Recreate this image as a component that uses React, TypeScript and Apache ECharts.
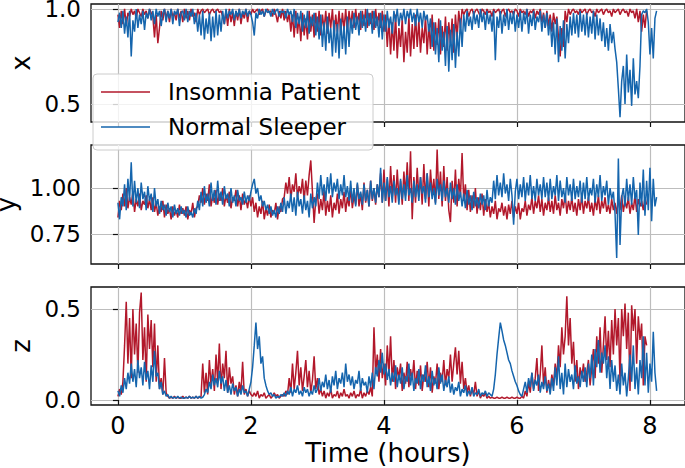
import React, { useEffect, useRef } from "react";
import * as echarts from "echarts";

// Sampling interval of the accelerometer traces, in hours.
const STEP_HOURS = 0.025;

const SERIES_NAMES = ["Insomnia Patient", "Normal Sleeper"];
const SERIES_COLORS = ["#b2182b", "#1565ad"];
const PANEL_NAMES = ["x", "y", "z"];
const X_TICKS = [0, 2, 4, 6, 8];
const Y_TICKS = [
  [0.5, 1.0],
  [0.75, 1.0],
  [0.0, 0.5],
];
const Y_DECIMALS = [1, 2, 1];
const Y_RANGES = [
  [0.405, 1.026],
  [0.587, 1.234],
  [-0.0275, 0.621],
];

// x-axis component (one row = half an hour)
const xInsomnia = [
  0.97, 0.9, 0.99, 0.92, 1.0, 0.91, 0.98, 0.96, 1.0, 0.97, 0.99, 0.95, 1.0, 0.98, 0.96, 1.0, 0.97, 0.99, 0.95, 1.0,
  0.98, 0.96, 0.85, 0.97, 0.82, 0.9, 0.99, 0.94, 1.0, 0.95, 0.99, 0.93, 1.0, 0.96, 0.98, 0.94, 1.0, 0.95, 0.99, 0.93,
  1.0, 0.95, 0.99, 0.94, 1.0, 0.96, 0.98, 0.93, 1.0, 0.97, 0.99, 1.0, 0.98, 0.99, 1.0, 0.97, 0.99, 1.0, 0.98, 0.99,
  1.0, 0.98, 0.99, 0.96, 0.92, 0.99, 0.91, 1.0, 0.93, 0.98, 0.91, 0.99, 0.94, 1.0, 0.92, 0.98, 0.95, 1.0, 0.93, 0.99,
  0.97, 1.0, 0.98, 0.99, 1.0, 0.97, 0.99, 1.0, 0.96, 0.99, 1.0, 0.98, 0.99, 0.96, 1.0, 0.97, 0.93, 0.99, 0.95, 1.0,
  0.94, 0.99, 0.93, 0.98, 0.88, 0.97, 0.85, 0.99, 0.87, 0.96, 0.83, 0.98, 0.86, 0.95, 0.84, 0.99, 0.88, 0.97, 0.85, 0.98,
  0.88, 0.99, 0.86, 0.97, 0.89, 0.99, 0.87, 0.98, 0.9, 1.0, 0.86, 0.97, 0.88, 0.99, 0.87, 0.98, 0.89, 1.0, 0.88, 0.99,
  0.91, 0.99, 0.9, 1.0, 0.92, 0.98, 0.89, 0.99, 0.91, 1.0, 0.9, 0.98, 0.92, 0.99, 0.89, 1.0, 0.91, 0.98, 0.9, 0.99,
  0.88, 0.97, 0.8, 0.95, 0.76, 0.93, 0.78, 0.97, 0.74, 0.9, 0.8, 0.95, 0.72, 0.88, 0.77, 0.96, 0.75, 0.92, 0.79, 0.97,
  0.8, 0.94, 0.77, 0.9, 0.82, 0.96, 0.76, 0.92, 0.79, 0.97, 0.78, 0.93, 0.81, 0.95, 0.76, 0.91, 0.8, 0.96, 0.78, 0.93,
  0.82, 0.95, 0.77, 0.97, 0.85, 0.99, 0.9, 1.0, 0.97, 0.99, 1.0, 0.96, 0.99, 1.0, 0.97, 0.99, 1.0, 0.98, 0.96, 1.0,
  0.99, 0.97, 1.0, 0.98, 0.99, 0.96, 1.0, 0.98, 0.99, 1.0, 0.97, 0.99, 1.0, 0.96, 0.99, 1.0, 0.98, 0.99, 0.97, 1.0,
  0.99, 0.96, 1.0, 0.98, 0.99, 0.97, 1.0, 0.96, 0.99, 0.98, 1.0, 0.95, 0.99, 0.97, 1.0, 0.93, 0.98, 0.9, 0.99, 0.91,
  0.97, 0.88, 0.98, 0.92, 0.96, 0.85, 0.75, 0.9, 0.8, 0.99, 0.93, 1.0, 0.97, 0.99, 1.0, 0.98, 0.99, 0.97, 1.0, 0.98,
  0.99, 1.0, 0.97, 0.99, 1.0, 0.98, 0.99, 0.96, 1.0, 0.98, 0.99, 1.0, 0.97, 0.99, 1.0, 0.98, 0.99, 0.96, 1.0, 0.98,
  0.99, 1.0, 0.97, 0.99, 1.0, 0.98, 0.99, 0.96, 1.0, 0.98, 0.99, 0.95, 1.0, 0.93, 0.99, 0.88, 0.97, 0.9, 0.99,
];
const xNormal = [
  0.93, 0.98, 0.9, 0.99, 0.87, 0.96, 0.85, 0.99, 0.75, 0.94, 0.88, 1.0, 0.9, 0.97, 0.92, 0.99, 0.89, 0.98, 0.95, 1.0,
  0.94, 0.99, 0.92, 1.0, 0.96, 0.99, 0.91, 0.98, 1.0, 0.93, 0.99, 0.95, 1.0, 0.92, 0.99, 0.97, 1.0, 0.91, 0.98, 0.99,
  0.94, 1.0, 0.93, 0.99, 0.96, 1.0, 0.92, 0.98, 0.88, 0.97, 0.86, 0.99, 0.84, 0.95, 0.87, 0.98, 0.83, 0.96, 0.85, 0.99,
  0.86, 0.97, 0.88, 0.99, 0.92, 1.0, 0.95, 0.99, 0.97, 1.0, 0.94, 0.99, 0.96, 1.0, 0.95, 0.99, 0.97, 1.0, 0.96, 0.99,
  0.97, 0.93, 0.86, 0.98, 0.95, 1.0, 0.97, 0.99, 0.96, 1.0, 0.98, 0.99, 0.96, 1.0, 0.97, 0.99, 1.0, 0.96, 0.99, 0.98,
  0.99, 0.95, 1.0, 0.97, 0.99, 0.93, 1.0, 0.9, 0.98, 0.92, 0.99, 0.88, 0.97, 0.9, 0.99, 0.87, 0.96, 0.91, 0.98, 0.86,
  0.96, 0.84, 0.97, 0.8, 0.93, 0.78, 0.96, 0.82, 0.9, 0.75, 0.94, 0.77, 0.92, 0.74, 0.95, 0.79, 0.91, 0.76, 0.96, 0.8,
  0.95, 0.87, 0.98, 0.89, 0.96, 0.86, 0.99, 0.9, 0.97, 0.88, 1.0, 0.91, 0.98, 0.87, 0.99, 0.9, 0.96, 0.85, 0.98, 0.84,
  0.97, 0.88, 0.99, 0.9, 0.96, 0.87, 0.99, 0.93, 1.0, 0.91, 0.98, 0.94, 1.0, 0.92, 0.99, 0.95, 1.0, 0.93, 0.98, 0.91,
  1.0, 0.93, 0.98, 0.9, 0.99, 0.94, 0.97, 0.88, 0.95, 0.8, 0.93, 0.76, 0.9, 0.72, 0.94, 0.78, 0.88, 0.7, 0.91, 0.67,
  0.89, 0.73, 0.92, 0.69, 0.88, 0.75, 0.95, 0.8, 0.97, 0.88, 0.99, 0.91, 0.96, 0.89, 0.99, 0.92, 0.97, 0.9, 1.0, 0.93,
  0.98, 0.89, 0.99, 0.92, 0.97, 0.88, 0.99, 0.73, 0.96, 0.9, 0.99, 0.87, 0.97, 0.91, 1.0, 0.89, 0.98, 0.92, 0.99, 0.88,
  0.97, 0.9, 0.99, 0.88, 0.98, 0.92, 1.0, 0.87, 0.97, 0.91, 0.99, 0.89, 0.96, 0.93, 0.99, 0.88, 0.97, 0.9, 0.98, 0.86,
  0.95, 0.8, 0.93, 0.76, 0.95, 0.72, 0.91, 0.78, 0.94, 0.74, 0.92, 0.82, 0.96, 0.86, 0.98, 0.87, 0.97, 0.85, 0.99, 0.88,
  0.97, 0.86, 0.98, 0.85, 0.96, 0.87, 0.99, 0.84, 0.97, 0.86, 0.95, 0.83, 0.93, 0.8, 0.9, 0.78, 0.92, 0.82, 0.88, 0.79,
  0.72, 0.58, 0.43, 0.62, 0.7, 0.5, 0.76, 0.56, 0.68, 0.49, 0.74, 0.55, 0.62, 0.53, 0.7, 0.97, 0.99, 0.98, 1.0, 0.93,
  0.76, 0.9, 0.74, 0.95, 0.99,
];

// y-axis component
const yInsomnia = [
  0.84, 0.93, 0.88, 0.97, 0.9, 1.0, 0.89, 0.95, 0.91, 0.98, 0.87, 0.94, 0.9, 0.97, 0.88, 0.93, 0.91, 0.96, 0.89, 0.94,
  0.88, 0.95, 0.87, 0.92, 0.85, 0.9, 0.87, 0.93, 0.84, 0.91, 0.86, 0.89, 0.83, 0.9, 0.85, 0.88, 0.84, 0.91, 0.86, 0.89,
  0.85, 0.9, 0.83, 0.88, 0.86, 0.92, 0.84, 0.89, 0.9, 0.96, 0.92, 1.0, 0.91, 0.97, 0.93, 1.02, 0.9, 0.96, 0.92, 0.99,
  0.91, 0.97, 0.93, 1.0, 0.9, 0.96, 0.92, 0.98, 0.89, 0.95, 0.93, 0.99, 0.9, 0.96, 0.88, 0.97, 0.91, 0.94, 0.89, 0.96,
  0.9, 0.95, 0.87, 0.92, 0.84, 0.9, 0.86, 0.93, 0.83, 0.89, 0.85, 0.91, 0.84, 0.88, 0.86, 0.92, 0.83, 0.9, 0.87, 0.94,
  0.95, 1.03, 0.97, 1.06, 0.94, 1.02, 0.98, 1.08, 0.95, 1.01, 0.97, 1.05, 0.93, 1.04, 0.96, 1.07, 1.15, 0.98, 0.81, 0.94,
  0.97, 0.86, 0.94, 0.88, 0.99, 0.85, 0.93, 0.87, 0.96, 0.84, 0.92, 0.88, 0.97, 0.86, 0.94, 0.89, 0.98, 0.87, 0.95, 0.9,
  1.0, 0.89, 0.96, 0.91, 1.02, 0.9, 0.97, 0.88, 1.03, 0.92, 0.99, 0.9, 1.04, 0.93, 1.0, 0.91, 1.02, 0.95, 1.08, 0.92,
  1.1, 0.93, 1.05, 0.9, 1.12, 0.95, 1.07, 0.92, 1.1, 0.94, 1.04, 0.91, 1.09, 0.96, 1.14, 0.93, 1.2, 0.83, 1.06, 0.92,
  1.11, 0.95, 1.06, 0.91, 1.13, 0.94, 1.08, 0.9, 1.1, 0.96, 1.05, 0.92, 1.21, 0.94, 1.09, 0.9, 1.12, 0.93, 1.06, 0.88,
  0.815, 1.04, 0.92, 1.1, 0.9, 1.05, 0.95, 1.19, 0.93, 1.02, 0.88, 0.99, 0.87, 0.96, 0.89, 1.0, 0.86, 0.95, 0.88, 0.97,
  0.85, 0.94, 0.87, 0.92, 0.84, 0.9, 0.86, 0.93, 0.83, 0.89, 0.87, 0.92, 0.85, 0.9, 0.83, 0.91, 0.86, 0.93, 0.84, 0.9,
  0.86, 0.92, 0.83, 0.89, 0.87, 0.93, 0.85, 0.91, 0.88, 0.95, 0.86, 0.93, 0.89, 0.96, 0.87, 0.94, 0.85, 0.92, 0.88, 0.95,
  0.87, 0.93, 0.86, 0.96, 0.88, 0.92, 0.85, 0.94, 0.89, 0.97, 0.86, 0.93, 0.88, 0.95, 0.87, 0.92, 0.85, 0.94, 0.88, 0.96,
  0.86, 0.93, 0.89, 0.95, 0.87, 0.92, 0.85, 0.94, 0.88, 0.96, 0.86, 0.93, 0.89, 0.95, 0.87, 0.91, 0.86, 0.94, 0.88, 0.92,
  0.86, 0.94, 0.88, 0.96, 0.87, 0.93, 0.89, 0.95, 0.86, 0.92, 0.88, 0.96, 0.87, 0.94, 0.9, 0.93, 0.88, 0.95, 0.91,
];
const yNormal = [
  0.92, 0.83, 0.95, 0.9, 1.02, 0.88, 1.05, 0.93, 1.14, 0.9, 1.04, 0.92, 1.0, 0.89, 1.03, 0.94, 0.98, 0.88, 1.01, 0.93,
  0.97, 0.87, 1.0, 0.9, 0.94, 0.86, 0.93, 0.88, 0.91, 0.85, 0.92, 0.87, 0.9, 0.84, 0.91, 0.86, 0.89, 0.85, 0.9, 0.86,
  0.88, 0.84, 0.9, 0.85, 0.87, 0.84, 0.89, 0.86, 0.93, 0.88, 0.98, 0.9, 1.01, 0.92, 0.97, 0.9, 1.03, 0.93, 0.99, 0.91,
  1.04, 0.93, 0.98, 0.91, 1.01, 0.94, 0.97, 0.9, 1.0, 0.92, 0.96, 0.9, 0.99, 0.93, 0.95, 0.91, 0.98, 0.92, 0.96, 0.93,
  0.98, 1.02, 1.05, 0.97, 1.0, 0.93, 0.96, 0.9, 0.93, 0.88, 0.91, 0.86, 0.9, 0.85, 0.88, 0.84, 0.9, 0.86, 0.92, 0.87,
  0.95, 0.86, 0.93, 0.89, 0.97, 0.87, 0.95, 0.85, 0.98, 0.9, 0.94, 0.86, 0.96, 0.88, 0.93, 0.84, 0.97, 0.89, 0.95, 0.9,
  1.03, 0.94, 1.07, 0.96, 1.02, 0.93, 1.06, 0.97, 1.08, 0.95, 1.03, 0.98, 1.05, 0.94, 1.02, 0.96, 1.07, 0.95, 1.01, 0.93,
  1.04, 0.92, 1.0, 0.9, 1.03, 0.94, 0.98, 0.91, 1.02, 0.93, 0.99, 0.9, 1.04, 0.94, 1.0, 0.92, 1.02, 0.95, 1.11, 0.92,
  1.03, 0.93, 1.06, 0.95, 1.01, 0.92, 1.04, 0.96, 1.0, 0.91, 1.05, 0.94, 1.02, 0.93, 1.07, 0.96, 1.0, 0.92, 1.04, 0.95,
  1.02, 0.93, 1.06, 0.97, 1.01, 0.92, 1.08, 0.95, 1.03, 0.94, 1.0, 0.91, 1.05, 0.96, 1.02, 0.93, 1.04, 0.95, 1.0, 0.92,
  1.03, 0.94, 1.0, 0.91, 1.02, 0.93, 0.98, 0.9, 0.97, 0.89, 0.99, 0.91, 0.96, 0.88, 0.98, 0.9, 0.95, 0.89, 0.97, 0.91,
  0.96, 0.88, 0.99, 0.9, 0.95, 0.92, 1.04, 0.94, 1.07, 0.96, 1.03, 0.95, 1.08, 0.97, 1.02, 0.93, 1.05, 0.96, 0.8, 0.98,
  1.05, 0.94, 1.02, 0.95, 1.06, 0.93, 1.03, 0.96, 1.07, 0.94, 1.01, 0.93, 1.05, 0.96, 1.02, 0.94, 1.06, 0.95, 1.03, 0.93,
  1.05, 0.94, 1.01, 0.96, 1.07, 0.93, 1.04, 0.95, 1.0, 0.92, 1.06, 0.96, 1.02, 0.93, 1.05, 0.94, 1.01, 0.95, 1.04, 0.92,
  1.03, 0.94, 1.06, 0.93, 1.0, 0.96, 1.05, 0.92, 1.02, 0.95, 1.07, 0.93, 1.01, 0.96, 1.04, 0.91, 1.0, 0.94, 0.98, 0.86,
  0.62, 1.16, 0.69, 0.95, 1.0, 0.9, 1.05, 0.93, 1.02, 0.91, 1.06, 0.94, 0.99, 0.745, 1.03, 0.9, 1.1, 0.85, 1.04, 0.88,
  1.11, 0.82, 1.05, 0.9, 0.95,
];

// z-axis component
const zInsomnia = [
  0.02, 0.06, 0.03, 0.1, 0.3, 0.54, 0.2, 0.45, 0.12, 0.5, 0.25, 0.42, 0.15, 0.48, 0.59, 0.22, 0.4, 0.1, 0.47, 0.28,
  0.44, 0.18, 0.42, 0.1, 0.3, 0.06, 0.12, 0.03, 0.23, 0.04, 0.02, 0.01, 0.015, 0.01, 0.02, 0.01, 0.015, 0.01, 0.01, 0.02,
  0.01, 0.015, 0.01, 0.02, 0.01, 0.015, 0.01, 0.02, 0.01, 0.015, 0.02, 0.2, 0.04, 0.15, 0.03, 0.22, 0.08, 0.17, 0.05, 0.25,
  0.1, 0.31, 0.06, 0.2, 0.12, 0.27, 0.04, 0.18, 0.09, 0.13, 0.03, 0.08, 0.02, 0.1, 0.04, 0.21, 0.03, 0.06, 0.02, 0.05,
  0.03, 0.02, 0.04, 0.02, 0.05, 0.01, 0.03, 0.02, 0.04, 0.01, 0.02, 0.03, 0.01, 0.02, 0.04, 0.02, 0.03, 0.01, 0.02, 0.03,
  0.02, 0.05, 0.03, 0.12, 0.04, 0.2, 0.06, 0.15, 0.27, 0.08, 0.18, 0.05, 0.13, 0.22, 0.07, 0.16, 0.04, 0.11, 0.24, 0.06,
  0.12, 0.03, 0.06, 0.02, 0.05, 0.01, 0.04, 0.02, 0.06, 0.01, 0.03, 0.02, 0.05, 0.01, 0.04, 0.02, 0.06, 0.02, 0.03, 0.01,
  0.04, 0.02, 0.05, 0.01, 0.03, 0.02, 0.06, 0.01, 0.04, 0.02, 0.05, 0.03, 0.07, 0.02, 0.4, 0.15, 0.25, 0.1, 0.28, 0.12,
  0.2, 0.08, 0.3, 0.14, 0.35, 0.1, 0.22, 0.06, 0.18, 0.12, 0.2, 0.05, 0.15, 0.09, 0.21, 0.07, 0.17, 0.11, 0.22, 0.06,
  0.16, 0.08, 0.19, 0.05, 0.14, 0.1, 0.21, 0.07, 0.18, 0.04, 0.13, 0.09, 0.2, 0.06, 0.15, 0.1, 0.22, 0.08, 0.17, 0.12,
  0.25, 0.1, 0.2, 0.29, 0.14, 0.27, 0.09, 0.21, 0.06, 0.12, 0.04, 0.08, 0.02, 0.06, 0.03, 0.1, 0.02, 0.05, 0.01, 0.03,
  0.02, 0.04, 0.01, 0.02, 0.01, 0.015, 0.01, 0.01, 0.015, 0.01, 0.01, 0.015, 0.01, 0.01, 0.015, 0.01, 0.01, 0.015, 0.01, 0.01,
  0.015, 0.01, 0.01, 0.02, 0.01, 0.05, 0.02, 0.1, 0.04, 0.15, 0.06, 0.12, 0.23, 0.05, 0.14, 0.3, 0.08, 0.18, 0.04, 0.11,
  0.05, 0.14, 0.08, 0.2, 0.12, 0.3, 0.18, 0.4, 0.25, 0.35, 0.57, 0.3, 0.45, 0.2, 0.32, 0.1, 0.22, 0.06, 0.18, 0.12,
  0.2, 0.1, 0.15, 0.22, 0.08, 0.18, 0.28, 0.12, 0.35, 0.2, 0.4, 0.15, 0.3, 0.46, 0.22, 0.38, 0.18, 0.44, 0.25, 0.5,
  0.3, 0.45, 0.1, 0.5, 0.35, 0.53, 0.28, 0.48, 0.05, 0.52, 0.38, 0.5, 0.2, 0.46, 0.33, 0.42, 0.08, 0.35, 0.3,
];
const zNormal = [
  0.05, 0.02, 0.08, 0.04, 0.12, 0.06, 0.15, 0.09, 0.2, 0.1, 0.17, 0.07, 0.22, 0.12, 0.18, 0.08, 0.21, 0.11, 0.16, 0.06,
  0.19, 0.1, 0.27, 0.13, 0.15, 0.06, 0.1, 0.03, 0.05, 0.02, 0.03, 0.01, 0.02, 0.01, 0.015, 0.01, 0.02, 0.01, 0.015, 0.01,
  0.01, 0.015, 0.01, 0.02, 0.01, 0.015, 0.01, 0.02, 0.01, 0.02, 0.01, 0.015, 0.03, 0.06, 0.04, 0.1, 0.06, 0.14, 0.08, 0.12,
  0.07, 0.16, 0.09, 0.13, 0.05, 0.11, 0.04, 0.08, 0.03, 0.09, 0.05, 0.07, 0.02, 0.06, 0.03, 0.08, 0.04, 0.05, 0.02, 0.06,
  0.1, 0.18, 0.3, 0.425, 0.28, 0.35, 0.2, 0.24, 0.12, 0.08, 0.05, 0.03, 0.04, 0.02, 0.03, 0.01, 0.02, 0.015, 0.03, 0.02,
  0.04, 0.02, 0.05, 0.03, 0.07, 0.02, 0.06, 0.04, 0.08, 0.03, 0.05, 0.02, 0.07, 0.04, 0.06, 0.02, 0.05, 0.03, 0.08, 0.04,
  0.06, 0.12, 0.05, 0.1, 0.07, 0.14, 0.06, 0.11, 0.04, 0.13, 0.08, 0.16, 0.06, 0.12, 0.09, 0.15, 0.07, 0.2, 0.1, 0.14,
  0.08, 0.13, 0.06, 0.11, 0.09, 0.16, 0.05, 0.12, 0.08, 0.1, 0.04, 0.13, 0.07, 0.15, 0.06, 0.18, 0.13, 0.22, 0.15, 0.26,
  0.14, 0.2, 0.11, 0.17, 0.08, 0.15, 0.1, 0.19, 0.07, 0.14, 0.09, 0.18, 0.06, 0.13, 0.1, 0.2, 0.08, 0.15, 0.05, 0.12,
  0.09, 0.17, 0.06, 0.14, 0.1, 0.19, 0.07, 0.13, 0.05, 0.16, 0.08, 0.12, 0.06, 0.18, 0.09, 0.14, 0.05, 0.11, 0.07, 0.13,
  0.04, 0.09, 0.03, 0.07, 0.05, 0.1, 0.02, 0.06, 0.04, 0.08, 0.02, 0.05, 0.03, 0.07, 0.02, 0.04, 0.03, 0.06, 0.02, 0.04,
  0.03, 0.05, 0.02, 0.04, 0.03, 0.02, 0.06, 0.14, 0.25, 0.34, 0.425, 0.38, 0.33, 0.3, 0.26, 0.22, 0.2, 0.16, 0.13, 0.1,
  0.08, 0.05, 0.03, 0.02, 0.06, 0.1, 0.04, 0.12, 0.07, 0.15, 0.05, 0.11, 0.08, 0.14, 0.04, 0.1, 0.06, 0.13, 0.05, 0.09,
  0.03, 0.12, 0.05, 0.18, 0.08, 0.24, 0.06, 0.15, 0.03, 0.2, 0.07, 0.17, 0.1, 0.14, 0.06, 0.19, 0.09, 0.13, 0.07, 0.16,
  0.1, 0.18, 0.07, 0.2, 0.12, 0.25, 0.08, 0.28, 0.18, 0.33, 0.15, 0.26, 0.2, 0.3, 0.12, 0.24, 0.06, 0.22, 0.1, 0.19,
  0.05, 0.14, 0.03, 0.2, 0.08, 0.15, 0.02, 0.12, 0.25, 0.1, 0.3, 0.06, 0.18, 0.03, 0.22, 0.12, 0.35, 0.08, 0.26, 0.04,
  0.2, 0.1, 0.375, 0.15, 0.05,
];

const PANELS = [
  [xInsomnia, xNormal],
  [yInsomnia, yNormal],
  [zInsomnia, zNormal],
];

const FONT = "DejaVu Sans";
const X_MIN = -0.405;
const X_MAX = 8.527;
const GRID_BOXES = [
  { top: 4, height: 118 },
  { top: 145, height: 119 },
  { top: 287, height: 118 },
];
const Y_NAME_GAPS = [55, 67, 55];

const toPoints = (values: number[]) => values.map((v, i) => [+(i * STEP_HOURS).toFixed(3), v]);

export default function App() {
  const ref = useRef<HTMLDivElement>(null);

  useEffect(() => {
    if (!ref.current) return;
    const chart = echarts.init(ref.current, undefined, { renderer: "svg" });

    const grid = GRID_BOXES.map((b) => ({
      left: 91,
      right: 0,
      top: b.top,
      height: b.height,
      outerBoundsMode: "none",
      containLabel: false,
      show: true,
      borderColor: "#111",
      borderWidth: 1.3,
      backgroundColor: "transparent",
    }));

    const xAxis = PANELS.map((_, i) => {
      const last = i === PANELS.length - 1;
      return {
        type: "value",
        gridIndex: i,
        min: X_MIN,
        max: X_MAX,
        axisLine: { show: false },
        axisTick: {
          show: true,
          customValues: X_TICKS,
          length: 5,
          lineStyle: { color: "#111", width: 1.2 },
        },
        axisLabel: {
          show: last,
          customValues: X_TICKS,
          fontSize: 24,
          lineHeight: 20,
          fontFamily: FONT,
          color: "#000",
          margin: 11,
        },
        splitLine: { show: true, lineStyle: { color: "#bdbdbd", width: 1.2 } },
        name: last ? "Time (hours)" : "",
        nameLocation: "middle",
        nameGap: 35,
        nameTextStyle: { fontSize: 26, fontFamily: FONT, color: "#000" },
      };
    });

    const yAxis = PANELS.map((_, i) => ({
      type: "value",
      gridIndex: i,
      min: Y_RANGES[i][0],
      max: Y_RANGES[i][1],
      axisLine: { show: false },
      axisTick: {
        show: true,
        customValues: Y_TICKS[i],
        length: 5,
        lineStyle: { color: "#111", width: 1.2 },
      },
      axisLabel: {
        customValues: Y_TICKS[i],
        formatter: (v: number) => v.toFixed(Y_DECIMALS[i]),
        fontSize: 23,
        lineHeight: 18,
        fontFamily: FONT,
        color: "#000",
        margin: 10,
      },
      splitLine: { show: true, lineStyle: { color: "#bdbdbd", width: 1.2 } },
      name: PANEL_NAMES[i],
      nameLocation: "middle",
      nameGap: Y_NAME_GAPS[i],
      nameTextStyle: { fontSize: 26, fontFamily: FONT, color: "#000" },
    }));

    const series: any[] = [];
    PANELS.forEach((pair, i) => {
      pair.forEach((values, k) => {
        series.push({
          type: "line",
          name: SERIES_NAMES[k],
          xAxisIndex: i,
          yAxisIndex: i,
          data: toPoints(values),
          showSymbol: false,
          symbol: "none",
          lineStyle: { color: SERIES_COLORS[k], width: 1.5 },
          itemStyle: { color: SERIES_COLORS[k] },
          z: 2 + k,
        });
      });
    });

    // Legend box drawn over the upper panels
    const rowY = [92, 127];
    const graphic: any[] = [
      {
        type: "rect",
        z: 100,
        shape: { x: 93, y: 74, width: 280, height: 76, r: 4 },
        style: { fill: "rgba(255,255,255,0.8)", stroke: "#cccccc", lineWidth: 1 },
      },
    ];
    SERIES_NAMES.forEach((name, k) => {
      graphic.push({
        type: "line",
        z: 101,
        shape: { x1: 101, y1: rowY[k], x2: 150, y2: rowY[k] },
        style: { stroke: SERIES_COLORS[k], lineWidth: 1.5 },
      });
      graphic.push({
        type: "text",
        z: 101,
        x: 168,
        y: rowY[k],
        style: {
          text: name,
          fontSize: 23,
          fontFamily: FONT,
          fill: "#000",
          verticalAlign: "middle",
          align: "left",
        },
      });
    });

    chart.setOption({
      animation: false,
      backgroundColor: "#fff",
      grid,
      xAxis,
      yAxis,
      series,
      graphic,
    });

    return () => chart.dispose();
  }, []);

  return (
    <div
      ref={ref}
      style={{ position: "fixed", left: 0, top: 0, width: 685, height: 468 }}
    />
  );
}
